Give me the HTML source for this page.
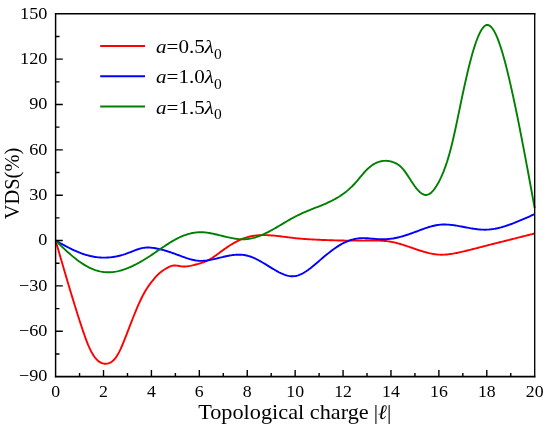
<!DOCTYPE html>
<html><head><meta charset="utf-8"><title>VDS vs topological charge</title>
<style>html,body{margin:0;padding:0;background:#fff}svg{display:block}</style></head>
<body>
<svg width="550" height="431" viewBox="0 0 550 431">
<rect width="550" height="431" fill="#fff"/>
<g fill="none" stroke-width="1.9" stroke-linejoin="round" stroke-linecap="butt">
<path d="M55.60,240.55 L56.80,244.70 L58.00,248.84 L59.20,252.98 L60.40,257.11 L61.60,261.24 L62.80,265.35 L64.01,269.45 L65.21,273.54 L66.41,277.61 L67.61,281.66 L68.81,285.70 L70.01,289.70 L71.21,293.69 L72.41,297.65 L73.61,301.57 L74.81,305.47 L76.01,309.33 L77.21,313.16 L78.41,316.95 L79.62,320.70 L80.82,324.41 L82.02,328.05 L83.22,331.61 L84.42,335.06 L85.62,338.38 L86.82,341.54 L88.02,344.54 L89.22,347.34 L90.42,349.93 L91.62,352.28 L92.82,354.38 L94.02,356.23 L95.22,357.84 L96.43,359.24 L97.63,360.42 L98.83,361.41 L100.03,362.21 L101.23,362.83 L102.43,363.28 L103.63,363.58 L104.83,363.74 L106.03,363.77 L107.23,363.65 L108.43,363.38 L109.63,362.94 L110.83,362.33 L112.04,361.52 L113.24,360.50 L114.44,359.26 L115.64,357.79 L116.84,356.08 L118.04,354.11 L119.24,351.88 L120.44,349.41 L121.64,346.75 L122.84,343.93 L124.04,340.98 L125.24,337.93 L126.44,334.82 L127.65,331.69 L128.85,328.55 L130.05,325.43 L131.25,322.32 L132.45,319.26 L133.65,316.23 L134.85,313.25 L136.05,310.34 L137.25,307.49 L138.45,304.73 L139.65,302.06 L140.85,299.49 L142.05,297.03 L143.25,294.69 L144.46,292.48 L145.66,290.41 L146.86,288.47 L148.06,286.66 L149.26,284.96 L150.46,283.34 L151.66,281.79 L152.86,280.30 L154.06,278.85 L155.26,277.45 L156.46,276.12 L157.66,274.87 L158.86,273.71 L160.07,272.65 L161.27,271.69 L162.47,270.81 L163.67,270.00 L164.87,269.24 L166.07,268.51 L167.27,267.82 L168.47,267.18 L169.67,266.62 L170.87,266.15 L172.07,265.79 L173.27,265.56 L174.47,265.47 L175.68,265.50 L176.88,265.62 L178.08,265.79 L179.28,265.99 L180.48,266.19 L181.68,266.36 L182.88,266.46 L184.08,266.50 L185.28,266.48 L186.48,266.39 L187.68,266.26 L188.88,266.09 L190.08,265.88 L191.28,265.64 L192.49,265.37 L193.69,265.08 L194.89,264.78 L196.09,264.48 L197.29,264.16 L198.49,263.83 L199.69,263.48 L200.89,263.10 L202.09,262.71 L203.29,262.28 L204.49,261.82 L205.69,261.33 L206.89,260.79 L208.10,260.22 L209.30,259.59 L210.50,258.92 L211.70,258.20 L212.90,257.43 L214.10,256.63 L215.30,255.79 L216.50,254.93 L217.70,254.06 L218.90,253.17 L220.10,252.27 L221.30,251.38 L222.50,250.49 L223.71,249.62 L224.91,248.76 L226.11,247.93 L227.31,247.11 L228.51,246.32 L229.71,245.55 L230.91,244.80 L232.11,244.07 L233.31,243.37 L234.51,242.69 L235.71,242.04 L236.91,241.41 L238.11,240.81 L239.32,240.24 L240.52,239.70 L241.72,239.18 L242.92,238.70 L244.12,238.25 L245.32,237.83 L246.52,237.44 L247.72,237.09 L248.92,236.77 L250.12,236.48 L251.32,236.22 L252.52,235.99 L253.72,235.80 L254.92,235.62 L256.13,235.48 L257.33,235.36 L258.53,235.26 L259.73,235.19 L260.93,235.14 L262.13,235.11 L263.33,235.10 L264.53,235.10 L265.73,235.13 L266.93,235.17 L268.13,235.22 L269.33,235.28 L270.53,235.36 L271.74,235.45 L272.94,235.55 L274.14,235.66 L275.34,235.77 L276.54,235.90 L277.74,236.03 L278.94,236.16 L280.14,236.30 L281.34,236.45 L282.54,236.59 L283.74,236.74 L284.94,236.90 L286.14,237.05 L287.35,237.20 L288.55,237.35 L289.75,237.50 L290.95,237.65 L292.15,237.79 L293.35,237.93 L294.55,238.07 L295.75,238.19 L296.95,238.32 L298.15,238.43 L299.35,238.55 L300.55,238.65 L301.75,238.75 L302.95,238.85 L304.16,238.94 L305.36,239.03 L306.56,239.11 L307.76,239.19 L308.96,239.27 L310.16,239.34 L311.36,239.41 L312.56,239.47 L313.76,239.54 L314.96,239.60 L316.16,239.66 L317.36,239.71 L318.56,239.77 L319.77,239.82 L320.97,239.88 L322.17,239.93 L323.37,239.98 L324.57,240.03 L325.77,240.07 L326.97,240.12 L328.17,240.16 L329.37,240.21 L330.57,240.25 L331.77,240.28 L332.97,240.32 L334.17,240.36 L335.38,240.39 L336.58,240.42 L337.78,240.45 L338.98,240.48 L340.18,240.50 L341.38,240.52 L342.58,240.54 L343.78,240.56 L344.98,240.58 L346.18,240.59 L347.38,240.60 L348.58,240.61 L349.78,240.62 L350.98,240.62 L352.19,240.62 L353.39,240.63 L354.59,240.63 L355.79,240.62 L356.99,240.62 L358.19,240.62 L359.39,240.61 L360.59,240.60 L361.79,240.60 L362.99,240.59 L364.19,240.58 L365.39,240.57 L366.59,240.55 L367.80,240.54 L369.00,240.53 L370.20,240.52 L371.40,240.51 L372.60,240.51 L373.80,240.51 L375.00,240.51 L376.20,240.53 L377.40,240.55 L378.60,240.58 L379.80,240.62 L381.00,240.68 L382.20,240.75 L383.41,240.83 L384.61,240.93 L385.81,241.04 L387.01,241.18 L388.21,241.33 L389.41,241.50 L390.61,241.70 L391.81,241.91 L393.01,242.15 L394.21,242.41 L395.41,242.69 L396.61,242.99 L397.81,243.31 L399.02,243.64 L400.22,243.98 L401.42,244.34 L402.62,244.71 L403.82,245.09 L405.02,245.48 L406.22,245.88 L407.42,246.28 L408.62,246.69 L409.82,247.10 L411.02,247.51 L412.22,247.93 L413.42,248.35 L414.62,248.76 L415.83,249.17 L417.03,249.58 L418.23,249.98 L419.43,250.38 L420.63,250.76 L421.83,251.14 L423.03,251.51 L424.23,251.86 L425.43,252.20 L426.63,252.52 L427.83,252.83 L429.03,253.12 L430.23,253.38 L431.44,253.63 L432.64,253.86 L433.84,254.06 L435.04,254.23 L436.24,254.38 L437.44,254.50 L438.64,254.59 L439.84,254.65 L441.04,254.68 L442.24,254.69 L443.44,254.66 L444.64,254.61 L445.84,254.53 L447.05,254.43 L448.25,254.31 L449.45,254.16 L450.65,254.00 L451.85,253.82 L453.05,253.62 L454.25,253.41 L455.45,253.19 L456.65,252.95 L457.85,252.70 L459.05,252.44 L460.25,252.18 L461.45,251.91 L462.65,251.63 L463.86,251.34 L465.06,251.06 L466.26,250.77 L467.46,250.48 L468.66,250.18 L469.86,249.88 L471.06,249.58 L472.26,249.28 L473.46,248.98 L474.66,248.67 L475.86,248.36 L477.06,248.05 L478.26,247.74 L479.47,247.43 L480.67,247.12 L481.87,246.81 L483.07,246.50 L484.27,246.19 L485.47,245.88 L486.67,245.57 L487.87,245.26 L489.07,244.95 L490.27,244.65 L491.47,244.34 L492.67,244.04 L493.87,243.73 L495.08,243.43 L496.28,243.12 L497.48,242.82 L498.68,242.52 L499.88,242.22 L501.08,241.92 L502.28,241.61 L503.48,241.31 L504.68,241.01 L505.88,240.71 L507.08,240.41 L508.28,240.11 L509.48,239.81 L510.68,239.51 L511.89,239.21 L513.09,238.90 L514.29,238.60 L515.49,238.30 L516.69,238.00 L517.89,237.69 L519.09,237.39 L520.29,237.09 L521.49,236.79 L522.69,236.48 L523.89,236.18 L525.09,235.88 L526.29,235.57 L527.50,235.27 L528.70,234.96 L529.90,234.66 L531.10,234.36 L532.30,234.05 L533.50,233.75 L534.70,233.45" stroke="#ff0000"/>
<path d="M55.60,240.55 L56.80,241.22 L58.00,241.90 L59.20,242.57 L60.40,243.24 L61.60,243.90 L62.80,244.56 L64.01,245.21 L65.21,245.86 L66.41,246.49 L67.61,247.12 L68.81,247.74 L70.01,248.35 L71.21,248.94 L72.41,249.52 L73.61,250.09 L74.81,250.64 L76.01,251.17 L77.21,251.69 L78.41,252.19 L79.62,252.67 L80.82,253.13 L82.02,253.56 L83.22,253.98 L84.42,254.38 L85.62,254.75 L86.82,255.10 L88.02,255.43 L89.22,255.74 L90.42,256.03 L91.62,256.29 L92.82,256.53 L94.02,256.75 L95.22,256.94 L96.43,257.11 L97.63,257.26 L98.83,257.38 L100.03,257.48 L101.23,257.56 L102.43,257.61 L103.63,257.63 L104.83,257.63 L106.03,257.61 L107.23,257.56 L108.43,257.49 L109.63,257.39 L110.83,257.27 L112.04,257.12 L113.24,256.95 L114.44,256.76 L115.64,256.55 L116.84,256.31 L118.04,256.05 L119.24,255.77 L120.44,255.46 L121.64,255.13 L122.84,254.79 L124.04,254.42 L125.24,254.03 L126.44,253.61 L127.65,253.18 L128.85,252.73 L130.05,252.27 L131.25,251.79 L132.45,251.32 L133.65,250.84 L134.85,250.38 L136.05,249.93 L137.25,249.51 L138.45,249.10 L139.65,248.74 L140.85,248.41 L142.05,248.12 L143.25,247.88 L144.46,247.70 L145.66,247.58 L146.86,247.51 L148.06,247.49 L149.26,247.52 L150.46,247.60 L151.66,247.71 L152.86,247.86 L154.06,248.03 L155.26,248.23 L156.46,248.46 L157.66,248.70 L158.86,248.97 L160.07,249.24 L161.27,249.54 L162.47,249.85 L163.67,250.18 L164.87,250.52 L166.07,250.87 L167.27,251.24 L168.47,251.62 L169.67,252.01 L170.87,252.41 L172.07,252.82 L173.27,253.25 L174.47,253.68 L175.68,254.11 L176.88,254.56 L178.08,255.01 L179.28,255.46 L180.48,255.91 L181.68,256.35 L182.88,256.79 L184.08,257.22 L185.28,257.64 L186.48,258.05 L187.68,258.43 L188.88,258.80 L190.08,259.15 L191.28,259.47 L192.49,259.77 L193.69,260.03 L194.89,260.27 L196.09,260.47 L197.29,260.63 L198.49,260.75 L199.69,260.83 L200.89,260.86 L202.09,260.85 L203.29,260.81 L204.49,260.73 L205.69,260.61 L206.89,260.47 L208.10,260.30 L209.30,260.10 L210.50,259.88 L211.70,259.64 L212.90,259.39 L214.10,259.12 L215.30,258.84 L216.50,258.55 L217.70,258.25 L218.90,257.95 L220.10,257.65 L221.30,257.36 L222.50,257.06 L223.71,256.78 L224.91,256.50 L226.11,256.24 L227.31,255.99 L228.51,255.75 L229.71,255.54 L230.91,255.34 L232.11,255.17 L233.31,255.01 L234.51,254.89 L235.71,254.79 L236.91,254.72 L238.11,254.69 L239.32,254.69 L240.52,254.72 L241.72,254.79 L242.92,254.90 L244.12,255.06 L245.32,255.26 L246.52,255.50 L247.72,255.79 L248.92,256.13 L250.12,256.51 L251.32,256.94 L252.52,257.40 L253.72,257.91 L254.92,258.44 L256.13,259.01 L257.33,259.61 L258.53,260.24 L259.73,260.89 L260.93,261.56 L262.13,262.24 L263.33,262.95 L264.53,263.67 L265.73,264.39 L266.93,265.13 L268.13,265.87 L269.33,266.61 L270.53,267.35 L271.74,268.09 L272.94,268.82 L274.14,269.55 L275.34,270.25 L276.54,270.94 L277.74,271.61 L278.94,272.25 L280.14,272.85 L281.34,273.42 L282.54,273.95 L283.74,274.44 L284.94,274.88 L286.14,275.27 L287.35,275.60 L288.55,275.87 L289.75,276.07 L290.95,276.20 L292.15,276.27 L293.35,276.25 L294.55,276.15 L295.75,275.97 L296.95,275.70 L298.15,275.36 L299.35,274.93 L300.55,274.43 L301.75,273.87 L302.95,273.24 L304.16,272.55 L305.36,271.81 L306.56,271.02 L307.76,270.19 L308.96,269.32 L310.16,268.41 L311.36,267.47 L312.56,266.50 L313.76,265.51 L314.96,264.50 L316.16,263.48 L317.36,262.45 L318.56,261.42 L319.77,260.39 L320.97,259.36 L322.17,258.34 L323.37,257.32 L324.57,256.32 L325.77,255.32 L326.97,254.34 L328.17,253.37 L329.37,252.42 L330.57,251.49 L331.77,250.57 L332.97,249.68 L334.17,248.81 L335.38,247.96 L336.58,247.15 L337.78,246.36 L338.98,245.60 L340.18,244.87 L341.38,244.18 L342.58,243.52 L343.78,242.90 L344.98,242.32 L346.18,241.78 L347.38,241.28 L348.58,240.81 L349.78,240.38 L350.98,239.99 L352.19,239.64 L353.39,239.32 L354.59,239.05 L355.79,238.81 L356.99,238.61 L358.19,238.44 L359.39,238.32 L360.59,238.23 L361.79,238.18 L362.99,238.16 L364.19,238.16 L365.39,238.20 L366.59,238.25 L367.80,238.32 L369.00,238.40 L370.20,238.50 L371.40,238.60 L372.60,238.71 L373.80,238.82 L375.00,238.92 L376.20,239.01 L377.40,239.10 L378.60,239.17 L379.80,239.22 L381.00,239.26 L382.20,239.27 L383.41,239.27 L384.61,239.24 L385.81,239.19 L387.01,239.12 L388.21,239.03 L389.41,238.92 L390.61,238.78 L391.81,238.62 L393.01,238.44 L394.21,238.23 L395.41,238.00 L396.61,237.75 L397.81,237.48 L399.02,237.20 L400.22,236.89 L401.42,236.57 L402.62,236.23 L403.82,235.88 L405.02,235.51 L406.22,235.13 L407.42,234.74 L408.62,234.34 L409.82,233.93 L411.02,233.51 L412.22,233.08 L413.42,232.64 L414.62,232.20 L415.83,231.75 L417.03,231.30 L418.23,230.84 L419.43,230.39 L420.63,229.94 L421.83,229.49 L423.03,229.05 L424.23,228.62 L425.43,228.20 L426.63,227.79 L427.83,227.40 L429.03,227.02 L430.23,226.66 L431.44,226.33 L432.64,226.01 L433.84,225.72 L435.04,225.46 L436.24,225.23 L437.44,225.03 L438.64,224.86 L439.84,224.72 L441.04,224.63 L442.24,224.56 L443.44,224.52 L444.64,224.52 L445.84,224.54 L447.05,224.58 L448.25,224.65 L449.45,224.75 L450.65,224.86 L451.85,224.99 L453.05,225.14 L454.25,225.31 L455.45,225.49 L456.65,225.68 L457.85,225.88 L459.05,226.09 L460.25,226.31 L461.45,226.53 L462.65,226.76 L463.86,226.99 L465.06,227.22 L466.26,227.45 L467.46,227.67 L468.66,227.90 L469.86,228.11 L471.06,228.32 L472.26,228.52 L473.46,228.71 L474.66,228.89 L475.86,229.05 L477.06,229.20 L478.26,229.34 L479.47,229.45 L480.67,229.55 L481.87,229.62 L483.07,229.67 L484.27,229.70 L485.47,229.70 L486.67,229.67 L487.87,229.61 L489.07,229.53 L490.27,229.42 L491.47,229.28 L492.67,229.12 L493.87,228.93 L495.08,228.72 L496.28,228.48 L497.48,228.23 L498.68,227.95 L499.88,227.65 L501.08,227.34 L502.28,227.00 L503.48,226.65 L504.68,226.29 L505.88,225.91 L507.08,225.51 L508.28,225.10 L509.48,224.68 L510.68,224.25 L511.89,223.80 L513.09,223.35 L514.29,222.89 L515.49,222.42 L516.69,221.94 L517.89,221.45 L519.09,220.95 L520.29,220.45 L521.49,219.94 L522.69,219.43 L523.89,218.91 L525.09,218.39 L526.29,217.86 L527.50,217.33 L528.70,216.80 L529.90,216.26 L531.10,215.72 L532.30,215.18 L533.50,214.64 L534.70,214.10" stroke="#0000ff"/>
<path d="M55.60,240.55 L56.80,241.71 L58.00,242.88 L59.20,244.04 L60.40,245.19 L61.60,246.34 L62.80,247.48 L64.01,248.61 L65.21,249.73 L66.41,250.84 L67.61,251.93 L68.81,253.01 L70.01,254.07 L71.21,255.12 L72.41,256.14 L73.61,257.14 L74.81,258.11 L76.01,259.07 L77.21,259.99 L78.41,260.89 L79.62,261.76 L80.82,262.59 L82.02,263.40 L83.22,264.17 L84.42,264.91 L85.62,265.62 L86.82,266.29 L88.02,266.93 L89.22,267.54 L90.42,268.11 L91.62,268.65 L92.82,269.15 L94.02,269.62 L95.22,270.05 L96.43,270.44 L97.63,270.79 L98.83,271.11 L100.03,271.40 L101.23,271.64 L102.43,271.84 L103.63,272.01 L104.83,272.13 L106.03,272.22 L107.23,272.27 L108.43,272.28 L109.63,272.26 L110.83,272.20 L112.04,272.11 L113.24,271.98 L114.44,271.82 L115.64,271.63 L116.84,271.41 L118.04,271.16 L119.24,270.88 L120.44,270.56 L121.64,270.23 L122.84,269.86 L124.04,269.47 L125.24,269.05 L126.44,268.61 L127.65,268.14 L128.85,267.65 L130.05,267.14 L131.25,266.61 L132.45,266.06 L133.65,265.48 L134.85,264.89 L136.05,264.27 L137.25,263.64 L138.45,263.00 L139.65,262.33 L140.85,261.65 L142.05,260.95 L143.25,260.24 L144.46,259.51 L145.66,258.78 L146.86,258.02 L148.06,257.26 L149.26,256.48 L150.46,255.70 L151.66,254.90 L152.86,254.10 L154.06,253.28 L155.26,252.47 L156.46,251.64 L157.66,250.82 L158.86,249.99 L160.07,249.17 L161.27,248.35 L162.47,247.53 L163.67,246.72 L164.87,245.92 L166.07,245.13 L167.27,244.34 L168.47,243.58 L169.67,242.82 L170.87,242.08 L172.07,241.36 L173.27,240.66 L174.47,239.99 L175.68,239.33 L176.88,238.70 L178.08,238.09 L179.28,237.51 L180.48,236.96 L181.68,236.44 L182.88,235.94 L184.08,235.47 L185.28,235.03 L186.48,234.62 L187.68,234.24 L188.88,233.89 L190.08,233.57 L191.28,233.28 L192.49,233.03 L193.69,232.81 L194.89,232.62 L196.09,232.47 L197.29,232.35 L198.49,232.27 L199.69,232.23 L200.89,232.22 L202.09,232.24 L203.29,232.30 L204.49,232.39 L205.69,232.51 L206.89,232.65 L208.10,232.82 L209.30,233.01 L210.50,233.22 L211.70,233.45 L212.90,233.69 L214.10,233.95 L215.30,234.22 L216.50,234.50 L217.70,234.78 L218.90,235.08 L220.10,235.37 L221.30,235.67 L222.50,235.97 L223.71,236.27 L224.91,236.56 L226.11,236.85 L227.31,237.13 L228.51,237.40 L229.71,237.66 L230.91,237.90 L232.11,238.13 L233.31,238.35 L234.51,238.55 L235.71,238.72 L236.91,238.88 L238.11,239.01 L239.32,239.11 L240.52,239.19 L241.72,239.24 L242.92,239.26 L244.12,239.24 L245.32,239.19 L246.52,239.11 L247.72,238.98 L248.92,238.82 L250.12,238.63 L251.32,238.39 L252.52,238.12 L253.72,237.82 L254.92,237.48 L256.13,237.12 L257.33,236.72 L258.53,236.30 L259.73,235.85 L260.93,235.37 L262.13,234.87 L263.33,234.35 L264.53,233.80 L265.73,233.23 L266.93,232.65 L268.13,232.04 L269.33,231.42 L270.53,230.78 L271.74,230.13 L272.94,229.46 L274.14,228.78 L275.34,228.09 L276.54,227.40 L277.74,226.69 L278.94,225.99 L280.14,225.27 L281.34,224.56 L282.54,223.84 L283.74,223.13 L284.94,222.41 L286.14,221.70 L287.35,221.00 L288.55,220.30 L289.75,219.62 L290.95,218.94 L292.15,218.27 L293.35,217.62 L294.55,216.98 L295.75,216.36 L296.95,215.75 L298.15,215.16 L299.35,214.58 L300.55,214.02 L301.75,213.47 L302.95,212.93 L304.16,212.40 L305.36,211.89 L306.56,211.38 L307.76,210.87 L308.96,210.38 L310.16,209.89 L311.36,209.40 L312.56,208.92 L313.76,208.44 L314.96,207.96 L316.16,207.48 L317.36,207.01 L318.56,206.53 L319.77,206.05 L320.97,205.56 L322.17,205.07 L323.37,204.57 L324.57,204.07 L325.77,203.55 L326.97,203.02 L328.17,202.48 L329.37,201.92 L330.57,201.35 L331.77,200.76 L332.97,200.14 L334.17,199.51 L335.38,198.85 L336.58,198.17 L337.78,197.46 L338.98,196.73 L340.18,195.96 L341.38,195.16 L342.58,194.33 L343.78,193.47 L344.98,192.57 L346.18,191.63 L347.38,190.64 L348.58,189.62 L349.78,188.55 L350.98,187.43 L352.19,186.26 L353.39,185.03 L354.59,183.75 L355.79,182.42 L356.99,181.03 L358.19,179.61 L359.39,178.17 L360.59,176.72 L361.79,175.29 L362.99,173.87 L364.19,172.50 L365.39,171.18 L366.59,169.92 L367.80,168.75 L369.00,167.66 L370.20,166.66 L371.40,165.75 L372.60,164.92 L373.80,164.16 L375.00,163.49 L376.20,162.90 L377.40,162.38 L378.60,161.94 L379.80,161.58 L381.00,161.28 L382.20,161.06 L383.41,160.91 L384.61,160.83 L385.81,160.82 L387.01,160.87 L388.21,160.98 L389.41,161.16 L390.61,161.41 L391.81,161.71 L393.01,162.08 L394.21,162.53 L395.41,163.06 L396.61,163.69 L397.81,164.43 L399.02,165.29 L400.22,166.28 L401.42,167.40 L402.62,168.67 L403.82,170.10 L405.02,171.66 L406.22,173.35 L407.42,175.11 L408.62,176.94 L409.82,178.80 L411.02,180.66 L412.22,182.51 L413.42,184.30 L414.62,186.02 L415.83,187.63 L417.03,189.13 L418.23,190.49 L419.43,191.69 L420.63,192.74 L421.83,193.60 L423.03,194.26 L424.23,194.72 L425.43,194.95 L426.63,194.93 L427.83,194.67 L429.03,194.15 L430.23,193.40 L431.44,192.41 L432.64,191.20 L433.84,189.78 L435.04,188.16 L436.24,186.35 L437.44,184.36 L438.64,182.20 L439.84,179.87 L441.04,177.38 L442.24,174.69 L443.44,171.80 L444.64,168.69 L445.84,165.35 L447.05,161.76 L448.25,157.89 L449.45,153.75 L450.65,149.30 L451.85,144.54 L453.05,139.50 L454.25,134.23 L455.45,128.76 L456.65,123.13 L457.85,117.41 L459.05,111.62 L460.25,105.81 L461.45,100.03 L462.65,94.31 L463.86,88.71 L465.06,83.24 L466.26,77.92 L467.46,72.77 L468.66,67.79 L469.86,63.01 L471.06,58.44 L472.26,54.09 L473.46,49.98 L474.66,46.13 L475.86,42.55 L477.06,39.25 L478.26,36.26 L479.47,33.58 L480.67,31.23 L481.87,29.23 L483.07,27.60 L484.27,26.34 L485.47,25.47 L486.67,25.01 L487.87,24.97 L489.07,25.34 L490.27,26.11 L491.47,27.25 L492.67,28.77 L493.87,30.64 L495.08,32.84 L496.28,35.36 L497.48,38.19 L498.68,41.32 L499.88,44.72 L501.08,48.38 L502.28,52.29 L503.48,56.44 L504.68,60.80 L505.88,65.36 L507.08,70.11 L508.28,75.03 L509.48,80.11 L510.68,85.34 L511.89,90.69 L513.09,96.17 L514.29,101.76 L515.49,107.46 L516.69,113.26 L517.89,119.16 L519.09,125.14 L520.29,131.21 L521.49,137.36 L522.69,143.58 L523.89,149.86 L525.09,156.19 L526.29,162.58 L527.50,169.02 L528.70,175.49 L529.90,181.99 L531.10,188.52 L532.30,195.07 L533.50,201.63 L534.70,208.20" stroke="#008000"/>
</g>
<g stroke="#000" fill="none">
<path d="M55.6,13.0 V377.35" stroke-width="1.45"/>
<path d="M54.875,376.65 H535.375" stroke-width="1.9"/>
<path d="M54.875,13.75 H535.375" stroke-width="1.5"/>
<path d="M534.7,13.0 V377.35" stroke-width="1.35"/>
<path d="M79.56,376.6 v-3.5 M103.51,376.6 v-6.7 M127.47,376.6 v-3.5 M151.42,376.6 v-6.7 M175.38,376.6 v-3.5 M199.33,376.6 v-6.7 M223.28,376.6 v-3.5 M247.24,376.6 v-6.7 M271.20,376.6 v-3.5 M295.15,376.6 v-6.7 M319.11,376.6 v-3.5 M343.06,376.6 v-6.7 M367.02,376.6 v-3.5 M390.97,376.6 v-6.7 M414.93,376.6 v-3.5 M438.88,376.6 v-6.7 M462.84,376.6 v-3.5 M486.79,376.6 v-6.7 M510.75,376.6 v-3.5 M55.6,353.93 h3.9 M55.6,331.25 h7.2 M55.6,308.58 h3.9 M55.6,285.90 h7.2 M55.6,263.23 h3.9 M55.6,240.55 h7.2 M55.6,217.88 h3.9 M55.6,195.20 h7.2 M55.6,172.53 h3.9 M55.6,149.85 h7.2 M55.6,127.17 h3.9 M55.6,104.50 h7.2 M55.6,81.83 h3.9 M55.6,59.15 h7.2 M55.6,36.48 h3.9" stroke-width="1.4"/>
</g>
<g font-family="'Liberation Serif', serif" font-size="17.4" fill="#000">
<text x="55.6" y="397.3" text-anchor="middle" textLength="8.9" lengthAdjust="spacingAndGlyphs">0</text>
<text x="103.5" y="397.3" text-anchor="middle" textLength="8.9" lengthAdjust="spacingAndGlyphs">2</text>
<text x="151.4" y="397.3" text-anchor="middle" textLength="8.9" lengthAdjust="spacingAndGlyphs">4</text>
<text x="199.3" y="397.3" text-anchor="middle" textLength="8.9" lengthAdjust="spacingAndGlyphs">6</text>
<text x="247.2" y="397.3" text-anchor="middle" textLength="8.9" lengthAdjust="spacingAndGlyphs">8</text>
<text x="295.2" y="397.3" text-anchor="middle" textLength="17.8" lengthAdjust="spacingAndGlyphs">10</text>
<text x="343.1" y="397.3" text-anchor="middle" textLength="17.8" lengthAdjust="spacingAndGlyphs">12</text>
<text x="391.0" y="397.3" text-anchor="middle" textLength="17.8" lengthAdjust="spacingAndGlyphs">14</text>
<text x="438.9" y="397.3" text-anchor="middle" textLength="17.8" lengthAdjust="spacingAndGlyphs">16</text>
<text x="486.8" y="397.3" text-anchor="middle" textLength="17.8" lengthAdjust="spacingAndGlyphs">18</text>
<text x="534.7" y="397.3" text-anchor="middle" textLength="17.8" lengthAdjust="spacingAndGlyphs">20</text>
<text x="47.4" y="381.4" text-anchor="end" textLength="28.5" lengthAdjust="spacingAndGlyphs">−90</text>
<text x="47.4" y="336.1" text-anchor="end" textLength="28.5" lengthAdjust="spacingAndGlyphs">−60</text>
<text x="47.4" y="290.7" text-anchor="end" textLength="28.5" lengthAdjust="spacingAndGlyphs">−30</text>
<text x="47.4" y="245.4" text-anchor="end" textLength="9.1" lengthAdjust="spacingAndGlyphs">0</text>
<text x="47.4" y="200.0" text-anchor="end" textLength="18.2" lengthAdjust="spacingAndGlyphs">30</text>
<text x="47.4" y="154.7" text-anchor="end" textLength="18.2" lengthAdjust="spacingAndGlyphs">60</text>
<text x="47.4" y="109.3" text-anchor="end" textLength="18.2" lengthAdjust="spacingAndGlyphs">90</text>
<text x="47.4" y="64.0" text-anchor="end" textLength="27.3" lengthAdjust="spacingAndGlyphs">120</text>
<text x="47.4" y="18.6" text-anchor="end" textLength="27.3" lengthAdjust="spacingAndGlyphs">150</text>
<text x="198.2" y="418.7" textLength="170.5" lengthAdjust="spacingAndGlyphs" font-size="20.4">Topological charge</text>
<text x="373.7" y="418.7" textLength="17.7" lengthAdjust="spacingAndGlyphs" font-size="20.4">|<tspan font-style="italic">ℓ</tspan>|</text>
<text transform="translate(19,183.5) rotate(-90)" text-anchor="middle" font-size="20.4">VDS(%)</text>
<line x1="100.2" x2="145" y1="46.0" y2="46.0" stroke="#ff0000" stroke-width="2"/>
<text x="156" y="53.2" textLength="65.7" lengthAdjust="spacingAndGlyphs" font-size="19.6"><tspan font-style="italic">a</tspan>=0.5<tspan font-style="italic">λ</tspan><tspan font-size="14.4" dy="5.4">0</tspan></text>
<line x1="100.2" x2="145" y1="76.2" y2="76.2" stroke="#0000ff" stroke-width="2"/>
<text x="156" y="83.4" textLength="65.7" lengthAdjust="spacingAndGlyphs" font-size="19.6"><tspan font-style="italic">a</tspan>=1.0<tspan font-style="italic">λ</tspan><tspan font-size="14.4" dy="5.4">0</tspan></text>
<line x1="100.2" x2="145" y1="106.4" y2="106.4" stroke="#008000" stroke-width="2"/>
<text x="156" y="113.6" textLength="65.7" lengthAdjust="spacingAndGlyphs" font-size="19.6"><tspan font-style="italic">a</tspan>=1.5<tspan font-style="italic">λ</tspan><tspan font-size="14.4" dy="5.4">0</tspan></text>
</g>
</svg>
</body></html>
